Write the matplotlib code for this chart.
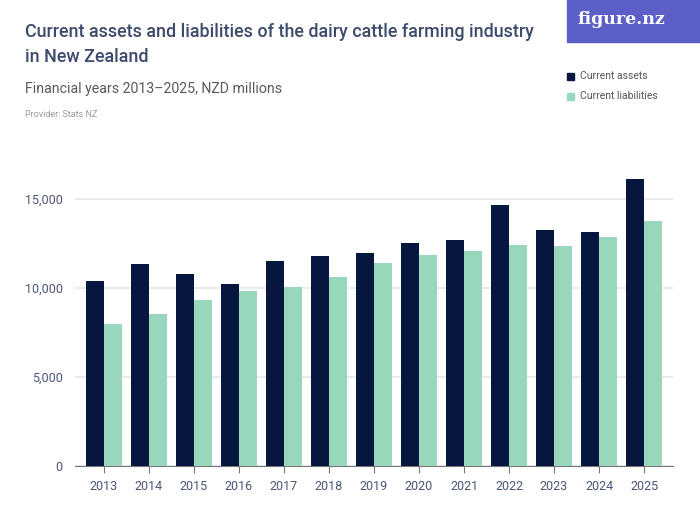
import numpy as np
import matplotlib.pyplot as plt
from matplotlib.patches import Rectangle

# data (NZD millions)
years = ['2013', '2014', '2015', '2016', '2017', '2018', '2019',
         '2020', '2021', '2022', '2023', '2024', '2025']
assets = [10390, 11300, 10740, 10220, 11490, 11750, 11920,
          12480, 12650, 14650, 13260, 13130, 16070]
liabilities = [7940, 8540, 9320, 9830, 10050, 10580, 11360,
               11830, 12050, 12390, 12310, 12820, 13720]

navy = '#06163f'
mint = '#98d7bb'
slate = '#3d4a6b'

plt.rcParams['font.family'] = ['Roboto', 'DejaVu Sans']

fig = plt.figure(figsize=(7, 5.25), dpi=100)
ax = fig.add_axes([75 / 700, 1 - 466 / 525, (673 - 75) / 700, (466 - 178) / 525])

x = np.arange(len(years))
w = 0.4
ax.bar(x - w / 2, assets, width=w, color=navy, zorder=3)
ax.bar(x + w / 2, liabilities, width=w, color=mint, zorder=3)

ax.set_xlim(-0.644, len(years) - 1 + 0.644)
ax.set_ylim(0, 16150)
ax.set_yticks([0, 5000, 10000, 15000])
ax.set_yticklabels(['0', '5,000', '10,000', '15,000'])
# ticks sit between the two bars of each year
ax.set_xticks(x)
ax.set_xticklabels(years)
ax.grid(axis='y', color='#e6e6e6', linewidth=1.2, zorder=0)
for s in ['top', 'right', 'left']:
    ax.spines[s].set_visible(False)
ax.spines['bottom'].set_color('#777777')
ax.tick_params(axis='y', length=0, pad=9, labelsize=9, labelcolor='#4a5578')
ax.tick_params(axis='x', length=5, color='#777777', pad=5, labelsize=9, labelcolor='#4a5578')

# titles
fig.text(25 / 700, 1 - 37 / 525, 'Current assets and liabilities of the dairy cattle farming industry',
         fontsize=12.9, fontweight='medium', color=slate, va='baseline')
fig.text(25 / 700, 1 - 62 / 525, 'in New Zealand',
         fontsize=12.9, fontweight='medium', color=slate, va='baseline')
fig.text(25 / 700, 1 - 93 / 525, 'Financial years 2013\u20132025, NZD millions',
         fontsize=10.2, color='#5a5a5a', va='baseline')
fig.text(25 / 700, 1 - 117 / 525, 'Provider: Stats NZ',
         fontsize=6.5, color='#999999', va='baseline')

# legend
for i, (lab, col) in enumerate([('Current assets', navy), ('Current liabilities', mint)]):
    yy = 1 - (76 + 20 * i) / 525
    fig.patches.append(Rectangle((567 / 700, yy - 3.5 / 525), 7 / 700, 7 / 525,
                                 transform=fig.transFigure, color=col))
    fig.text(580 / 700, yy, lab, fontsize=7.5, color='#555555', va='center')

# logo box
fig.patches.append(Rectangle((567 / 700, 1 - 42 / 525), 133 / 700, 42 / 525,
                             transform=fig.transFigure, color='#5b5fc7'))
fig.text(621 / 700, 1 - 20 / 525, 'figure.nz', fontsize=12.5, color='white',
         family='DejaVu Serif', fontweight='bold', ha='center', va='center')

fig.savefig('out.png', dpi=100)
